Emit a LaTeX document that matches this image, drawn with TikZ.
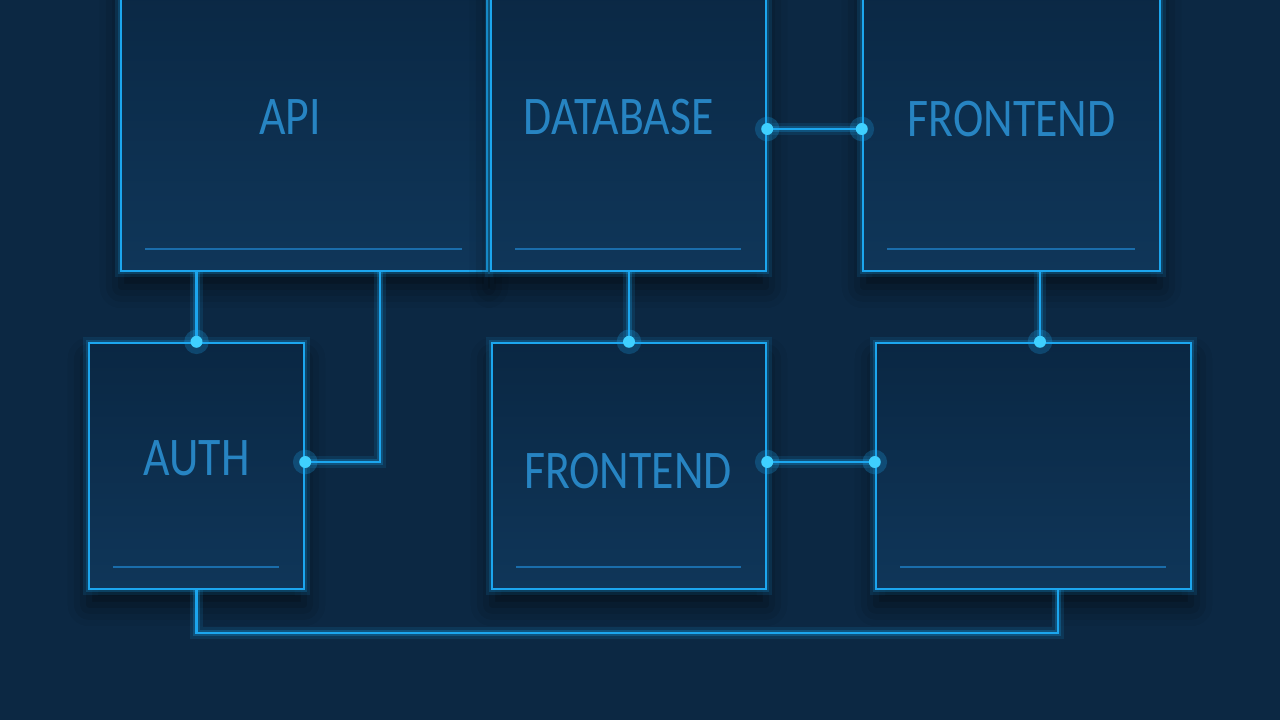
\documentclass[tikz,border=0pt]{standalone}
\usepackage{fontspec}
\setsansfont{Carlito}
\usetikzlibrary{calc,shadows.blur}
\definecolor{navybg}{HTML}{0C2843}
\definecolor{boxtop}{HTML}{0A2743}
\definecolor{boxbot}{HTML}{0F3659}
\definecolor{wirecol}{HTML}{1CA6EE}
\definecolor{dotcol}{HTML}{3FD0FF}
\definecolor{labelcol}{HTML}{2784C2}
\definecolor{innercol}{HTML}{1D7CC0}
\def\glowdot(#1){\fill[wirecol,opacity=0.25] (#1) circle (7pt); \fill[dotcol] (#1) circle (3.4pt);}

\begin{document}
\begin{tikzpicture}[x=0.02cm, y=-0.02cm,
	panel/.style={draw=wirecol, line width=1.4pt, top color=boxtop, middle color=boxtop, bottom color=boxbot,
		inner sep=0pt,
		blur shadow={shadow xshift=0pt, shadow yshift=-9pt, shadow opacity=60, shadow blur radius=12pt},
		preaction={draw=wirecol, line width=7pt, opacity=0.12},
		preaction={draw=wirecol, line width=3.5pt, opacity=0.22}},
	wire/.style={draw=wirecol, line width=1.4pt,
		preaction={draw=wirecol, line width=7pt, opacity=0.12},
		preaction={draw=wirecol, line width=3.5pt, opacity=0.25}},
	innerline/.style={draw=innercol, line width=1.3pt, opacity=0.8},
	tag/.style={text=labelcol, font=\fontsize{31}{31}\sffamily, xscale=0.84, transform shape}]
		%%%%% START %%%%%
		
		\fill[navybg] (0, 0) rectangle (1280, 720);
		\useasboundingbox (0, 0) rectangle (1280, 720);
		
		\node[panel, minimum width=7.32cm, minimum height=6.02cm] (api) at (304, 120.5) {};
		\node[panel, minimum width=5.5cm, minimum height=6.02cm] (db) at (628.5, 120.5) {};
		\node[panel, minimum width=5.94cm, minimum height=6.02cm] (fetop) at (1011.5, 120.5) {};
		
		\node[panel, minimum width=4.3cm, minimum height=4.92cm] (auth) at (196.5, 466) {};
		\node[panel, minimum width=5.48cm, minimum height=4.92cm] (femid) at (629, 466) {};
		\node[panel, minimum width=6.3cm, minimum height=4.92cm] (blank) at (1033.5, 466) {};
		
		\foreach \b in {api, db, fetop, auth, femid, blank}
			\draw[innerline] ($(\b.south west)+(25, -23)$) -- ($(\b.south east)+(-26, -23)$);
		
		% labels
		\node[tag] (apitag) at ($(api)+(-14, -3.5)$) {API};
		\node[tag] (dbtag) at ($(db)+(-10, -3.5)$) {DATABASE};
		\node[tag] (fetoptag) at ($(fetop)+(0, -1.5)$) {FRONTEND};
		\node[tag] (authtag) at ($(auth)+(0, -8)$) {AUTH};
		\node[tag] (femidtag) at ($(femid)+(-1, 5)$) {FRONTEND};
		
		\coordinate (j1) at (380, 462);
		\coordinate (j2) at (815, 129);
		\coordinate (j3) at (1040, 300);
		\coordinate (j4) at (1058, 633);
		
		\draw[wire] (api.south -| auth.north) -- (auth.north);
		\draw[wire] (api.south -| j1) -- (j1) -- (j1 -| auth.east);
		\draw[wire] (db.south -| femid.north) -- (femid.north);
		\draw[wire] (j2 -| db.east) -- (j2 -| fetop.west);
		\draw[wire] (fetop.south -| j3) -- (blank.north -| j3);
		\draw[wire] (femid.east |- j1) -- (j1 -| blank.west);
		\draw[wire] (auth.south) -- (auth.south |- j4) -- (j4) -- (blank.south -| j4);
		
		\glowdot(auth.north)
		\glowdot(femid.north)
		\glowdot(blank.north -| j3)
		\glowdot(j1 -| auth.east)
		\glowdot(j2 -| db.east)
		\glowdot(j2 -| fetop.west)
		\glowdot(femid.east |- j1)
		\glowdot(j1 -| blank.west)
		
		%%%%% END %%%%%
\end{tikzpicture}
\end{document}
